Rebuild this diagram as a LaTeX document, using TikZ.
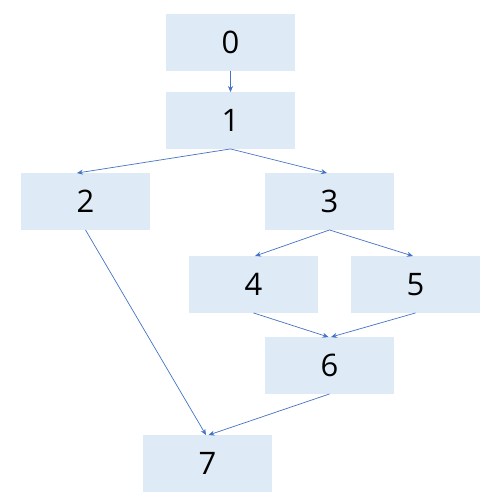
\documentclass[tikz,border=0pt]{standalone}
\usepackage{fontspec}
\setmainfont{Open Sans}
\usetikzlibrary{arrows.meta,calc}
\definecolor{boxfill}{RGB}{222,234,246}
\definecolor{edge}{RGB}{68,114,196}
\begin{document}
\begin{tikzpicture}[x=1pt,y=-1pt,
  box/.style={fill=boxfill,draw=none,minimum width=128.5pt,minimum height=56.5pt,inner sep=0pt,font=\fontsize{31}{34}\selectfont},
  link/.style={draw=edge,line width=0.7pt,-{Stealth[length=6pt,width=5pt]}}]
\useasboundingbox (0,0) rectangle (487,502);
\node[box] (n0) at (230.5,42.5) {0};
\node[box] (n1) at (230.5,120.5) {1};
\node[box] (n2) at (85.5,201.5) {2};
\node[box] (n3) at (329.5,201.5) {3};
\node[box] (n4) at (253.5,284.5) {4};
\node[box] (n5) at (415.5,284.5) {5};
\node[box] (n6) at (329.5,365.5) {6};
\node[box] (n7) at (207.5,463.5) {7};
\draw[link] (n0.south) -- (n1.north);
\draw[link] (n1.south) -- ($(n2.north)+(-8.5,0)$);
\draw[link] (n1.south) -- ($(n3.north)+(-2.5,0)$);
\draw[link] (n2.south) -- ($(n7.north)+(-1.5,0)$);
\draw[link] (n3.south) -- ($(n4.north)+(1.5,0)$);
\draw[link] (n3.south) -- ($(n5.north)+(-2.5,0)$);
\draw[link] (n4.south) -- ($(n6.north)+(-1,0)$);
\draw[link] (n5.south) -- ($(n6.north)+(1.5,0)$);
\draw[link] (n6.south) -- ($(n7.north)+(1,0)$);
\end{tikzpicture}
\end{document}
